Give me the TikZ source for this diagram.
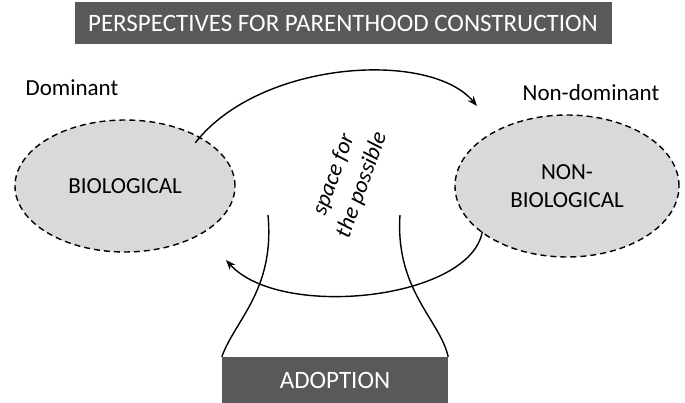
\documentclass[tikz,border=0pt]{standalone}
\usepackage{fontspec}
\setmainfont{Carlito}
\usetikzlibrary{shapes.geometric,arrows.meta}
\begin{document}
\begin{tikzpicture}[x=1pt,y=-1pt,
 band/.style={fill=black!65,text=white,font=\fontsize{25}{28}\selectfont},
 blob/.style={ellipse,draw,dash pattern=on 6pt off 4pt,line width=1.4pt,fill=black!15,font=\fontsize{23}{28}\selectfont,align=center},
 conn/.style={line width=1.4pt,-{Stealth[length=10pt]}},
 lbl/.style={font=\fontsize{23}{28}\selectfont}]
\useasboundingbox (0,0) rectangle (685,403);
\node[band,minimum width=537pt,minimum height=42pt] (t) at (343,23) {PERSPECTIVES FOR PARENTHOOD CONSTRUCTION};
\node[band,minimum width=226pt,minimum height=46pt] (a) at (335,380) {ADOPTION};
\node[blob,minimum width=220pt,minimum height=132pt] (b) at (125,186) {BIOLOGICAL};
\node[blob,minimum width=224pt,minimum height=142pt] (n) at (567,186) {NON-\\BIOLOGICAL};
\node[lbl] (d) at (72,88) {Dominant};
\node[lbl] (nd) at (591,93) {Non-dominant};
\draw[conn] (b.north east)++(-8,4) .. controls (260,60) and (430,50) .. (477,106);
\draw[conn] (n.south west)++(-5,-5) .. controls (470,300) and (280,320) .. (226,260);
\coordinate (l1) at (268,215); \coordinate (r1) at (400,215);
\draw[line width=1.4pt] (l1) .. controls (275,290) and (235,320) .. (a.north west);
\draw[line width=1.4pt] (r1) .. controls (395,290) and (440,320) .. (a.north east);
\node[rotate=70,font=\itshape\fontsize{23}{30}\selectfont,align=center] (s) at (348,180) {space for\\the possible};
\end{tikzpicture}
\end{document}
